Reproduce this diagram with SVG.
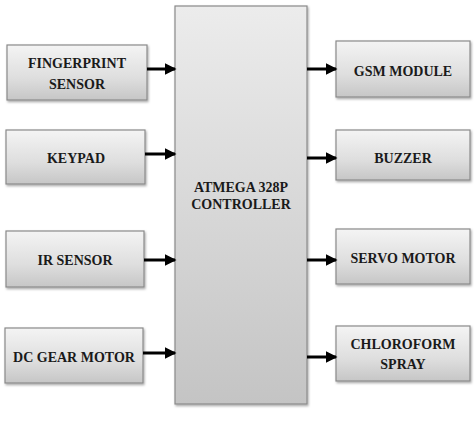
<svg xmlns="http://www.w3.org/2000/svg" width="474" height="427" viewBox="0 0 474 427">
<defs>
<linearGradient id="g" x1="0" y1="0" x2="0" y2="1">
<stop offset="0" stop-color="#f4f4f4"/>
<stop offset="0.6" stop-color="#dedede"/>
<stop offset="1" stop-color="#c6c6c6"/>
</linearGradient>
<linearGradient id="gc" x1="0" y1="0" x2="0" y2="1">
<stop offset="0" stop-color="#ececec"/>
<stop offset="1" stop-color="#c4c4c4"/>
</linearGradient>
<marker id="ah" markerWidth="4" markerHeight="4" refX="3.5" refY="2" orient="auto" markerUnits="strokeWidth">
<path d="M0,0 L4,2 L0,4 Z" fill="#000"/>
</marker>
<filter id="sh" x="-5%" y="-5%" width="115%" height="120%">
<feDropShadow dx="1" dy="1.5" stdDeviation="0.8" flood-color="#000" flood-opacity="0.35"/>
</filter>
</defs>
<style>
.box{fill:url(#g);stroke:#8a8a8a;stroke-width:1.2;filter:url(#sh)}
.ctr{fill:url(#gc);stroke:#8a8a8a;stroke-width:1.2;filter:url(#sh)}
text{font-family:"Liberation Serif","Times New Roman",serif;font-weight:bold;font-size:14px;fill:#1a1a1a;text-anchor:middle}
.arr{stroke:#000;stroke-width:3;fill:none;marker-end:url(#ah)}
</style>
<rect width="474" height="427" fill="#fff"/>
<g id="controller">
<rect class="ctr" x="175" y="6" width="132" height="398"/>
<text x="241" y="192">ATMEGA 328P</text>
<text x="241" y="209">CONTROLLER</text>
</g>
<g id="fingerprint">
<rect class="box" x="7" y="45" width="140" height="55"/>
<text x="77" y="68">FINGERPRINT</text>
<text x="77" y="89">SENSOR</text>
</g>
<g id="keypad">
<rect class="box" x="6" y="130" width="139" height="54"/>
<text x="76" y="163">KEYPAD</text>
</g>
<g id="ir">
<rect class="box" x="6" y="231" width="138" height="56"/>
<text x="75" y="265">IR SENSOR</text>
</g>
<g id="dcmotor">
<rect class="box" x="5" y="328" width="138" height="55"/>
<text x="74" y="362">DC GEAR MOTOR</text>
</g>
<g id="gsm">
<rect class="box" x="336" y="41" width="134" height="56"/>
<text x="403" y="76">GSM MODULE</text>
</g>
<g id="buzzer">
<rect class="box" x="336" y="130" width="134" height="50"/>
<text x="403" y="163">BUZZER</text>
</g>
<g id="servo">
<rect class="box" x="336" y="229" width="134" height="55"/>
<text x="403" y="263">SERVO MOTOR</text>
</g>
<g id="chloroform">
<rect class="box" x="336" y="326" width="134" height="55"/>
<text x="403" y="349">CHLOROFORM</text>
<text x="403" y="369">SPRAY</text>
</g>
<g id="connectors">
<line class="arr" x1="147" y1="69" x2="175" y2="69"/>
<line class="arr" x1="145" y1="154" x2="175" y2="154"/>
<line class="arr" x1="144" y1="260" x2="175" y2="260"/>
<line class="arr" x1="143" y1="353" x2="175" y2="353"/>
<line class="arr" x1="307" y1="69" x2="336" y2="69"/>
<line class="arr" x1="307" y1="158" x2="336" y2="158"/>
<line class="arr" x1="307" y1="260" x2="336" y2="260"/>
<line class="arr" x1="307" y1="357" x2="336" y2="357"/>
</g>
</svg>
